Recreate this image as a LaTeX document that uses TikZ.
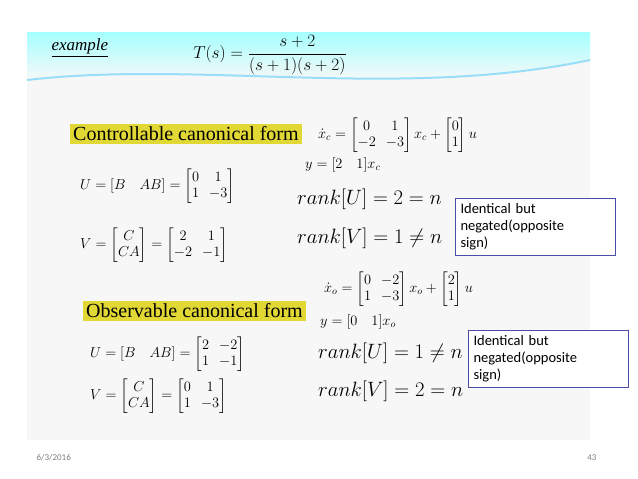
\documentclass[tikz,border=0pt]{standalone}
\usepackage{amsmath}
\usepackage{fontspec}
\setmainfont{Liberation Serif}
\newfontfamily\calib{Carlito}
\tikzset{
 hl/.style={fill=yellow!85!black!90, inner sep=3pt, font=\fontsize{20}{22}\selectfont},
 note/.style={draw=blue!50!black!70, line width=1pt, fill=white, align=left, text width=150pt, inner sep=5pt, font=\calib\fontsize{14.5}{17}\selectfont},
 eq/.style={font=\fontsize{14}{16}\selectfont, inner sep=0pt},
 rk/.style={font=\fontsize{22}{24}\selectfont, inner sep=0pt},
 foot/.style={font=\calib\fontsize{9}{10}\selectfont, text=gray}
}
\begin{document}
\begin{tikzpicture}[x=1pt,y=-1pt]
\useasboundingbox (0,0) rectangle (638,479);
\fill[white] (0,0) rectangle (638,479);
\fill[gray!6] (27,32) rectangle (590,440);
\shade[top color=cyan!35, bottom color=gray!6] (27,32) rectangle (590,80);
\fill[gray!6] (27,80) .. controls (200,60) and (400,100) .. (590,60) -- (590,82) -- (27,82) -- cycle;
\draw[cyan!40, line width=2pt] (27,80) .. controls (200,60) and (400,100) .. (590,60);
\node[anchor=west, font=\fontsize{17}{19}\selectfont\itshape] (ex) at (48,48) {\underline{example}};
\node[font=\fontsize{17}{19}\selectfont, inner sep=0pt] (T) at (270,55) {$T(s)=\dfrac{s+2}{(s+1)(s+2)}$};
\node[hl, anchor=west] (cc) at (70,134) {Controllable canonical form};
\node[eq, anchor=west] (xc) at (318,135) {$\dot{x}_c=\begin{bmatrix}0&1\\-2&-3\end{bmatrix}x_c+\begin{bmatrix}0\\1\end{bmatrix}u$};
\node[eq, anchor=west] (yc) at (305,165) {$y=[2\quad 1]x_c$};
\node[eq, anchor=west] (Uc) at (80,186) {$U=[B\quad AB]=\begin{bmatrix}0&1\\1&-3\end{bmatrix}$};
\node[rk, anchor=west] (rUc) at (297,199) {$rank[U]=2=n$};
\node[eq, anchor=west] (Vc) at (80,245) {$V=\begin{bmatrix}C\\CA\end{bmatrix}=\begin{bmatrix}2&1\\-2&-1\end{bmatrix}$};
\node[rk, anchor=west] (rVc) at (297,238) {$rank[V]=1\neq n$};
\node[note, anchor=north west] (n1) at (455,198) {Identical but\\negated(opposite\\sign)};
\node[hl, anchor=west] (oc) at (83,311) {Observable canonical form};
\node[eq, anchor=west] (xo) at (324,289) {$\dot{x}_o=\begin{bmatrix}0&-2\\1&-3\end{bmatrix}x_o+\begin{bmatrix}2\\1\end{bmatrix}u$};
\node[eq, anchor=west] (yo) at (320,322) {$y=[0\quad 1]x_o$};
\node[note, anchor=north west] (n2) at (468,330) {Identical but\\negated(opposite\\sign)};
\node[eq, anchor=west] (Uo) at (90,354) {$U=[B\quad AB]=\begin{bmatrix}2&-2\\1&-1\end{bmatrix}$};
\node[rk, anchor=west] (rUo) at (318,353) {$rank[U]=1\neq n$};
\node[eq, anchor=west] (Vo) at (90,396) {$V=\begin{bmatrix}C\\CA\end{bmatrix}=\begin{bmatrix}0&1\\1&-3\end{bmatrix}$};
\node[rk, anchor=west] (rVo) at (318,391) {$rank[V]=2=n$};
\node[foot, anchor=west] (d) at (33,458) {6/3/2016};
\node[foot, anchor=east] (p) at (600,458) {43};
\end{tikzpicture}
\end{document}
